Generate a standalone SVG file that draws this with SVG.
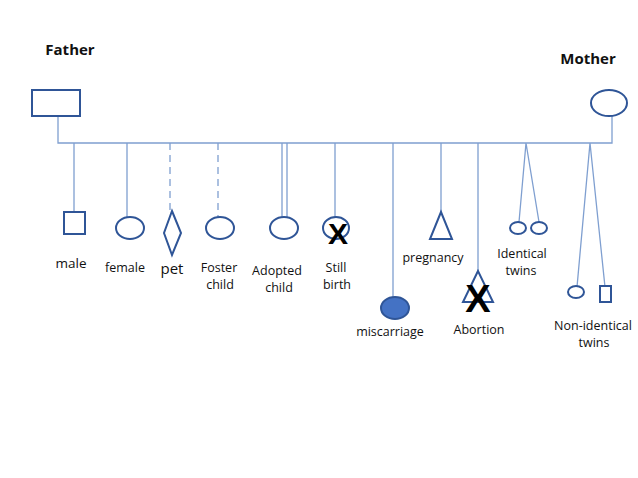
<svg xmlns="http://www.w3.org/2000/svg" width="638" height="478" viewBox="0 0 638 478">
<style>
.s{fill:#fff;stroke:#2f5597;stroke-width:2}
.l{fill:none;stroke:#7f9fd0;stroke-width:1.3}
.d{stroke-dasharray:7,5}
text{font-family:"Open Sans","Liberation Sans",sans-serif;font-size:12.5px;fill:#111;text-anchor:middle}
.b{font-weight:bold;font-size:15px}
.x{font-family:"Liberation Sans",sans-serif;font-weight:bold;font-size:30px;fill:#000}
</style>
<rect width="638" height="478" fill="#fff"/>
<g id="connectors">
<path class="l" d="M58 116V143H612V116"/>
<path class="l" d="M74 143V212M127 143V217M335 143V217M393 143V297M441 143V212M478 143V271"/>
<path class="l d" d="M170 143V211M218 143V217"/>
<path class="l" d="M282 143V217M287 143V217"/>
<path class="l" d="M526 143L519 222M526 143L539 222M590 143L577 287M590 143L605 287"/>
</g>
<g id="father"><rect class="s" x="32" y="90" width="48" height="26"/><text class="b" x="70" y="55">Father</text></g>
<g id="mother"><ellipse class="s" cx="609" cy="103" rx="18" ry="13"/><text class="b" x="588" y="64">Mother</text></g>
<g id="male"><rect class="s" x="64" y="212" width="21" height="22"/><text x="71" y="268" style="font-size:13.5px">male</text></g>
<g id="female"><ellipse class="s" cx="130" cy="228" rx="14" ry="11"/><text x="125" y="272">female</text></g>
<g id="pet"><polygon class="s" points="172,211 181,233 172,255 164,233"/><text x="172" y="274" style="font-size:15px">pet</text></g>
<g id="foster"><ellipse class="s" cx="220" cy="228" rx="14" ry="11"/><text x="219" y="272">Foster</text><text x="220" y="289">child</text></g>
<g id="adopted"><ellipse class="s" cx="284" cy="228" rx="14" ry="11"/><text x="277" y="275">Adopted</text><text x="279" y="292">child</text></g>
<g id="stillbirth"><ellipse class="s" cx="336" cy="228" rx="13" ry="11"/><text class="x" x="338" y="244">X</text><text x="336" y="272">Still</text><text x="337" y="289">birth</text></g>
<g id="miscarriage"><ellipse class="s" style="fill:#4472c4" cx="395" cy="308" rx="14" ry="11"/><text x="390" y="336">miscarriage</text></g>
<g id="pregnancy"><polygon class="s" points="441,212 430,239 452,239"/><text x="433" y="262">pregnancy</text></g>
<g id="abortion"><polygon class="s" points="478,271 463,302 493,302"/><text class="x" x="478" y="312" style="font-size:38px">X</text><text x="479" y="334">Abortion</text></g>
<g id="identical"><ellipse class="s" cx="518" cy="228" rx="8" ry="6"/><ellipse class="s" cx="539" cy="228" rx="8" ry="6"/><text x="522" y="258">Identical</text><text x="521" y="275">twins</text></g>
<g id="nonidentical"><ellipse class="s" cx="576" cy="292" rx="8" ry="6"/><rect class="s" x="600" y="286" width="11" height="16"/><text x="593" y="330">Non-identical</text><text x="594" y="347">twins</text></g>
</svg>
